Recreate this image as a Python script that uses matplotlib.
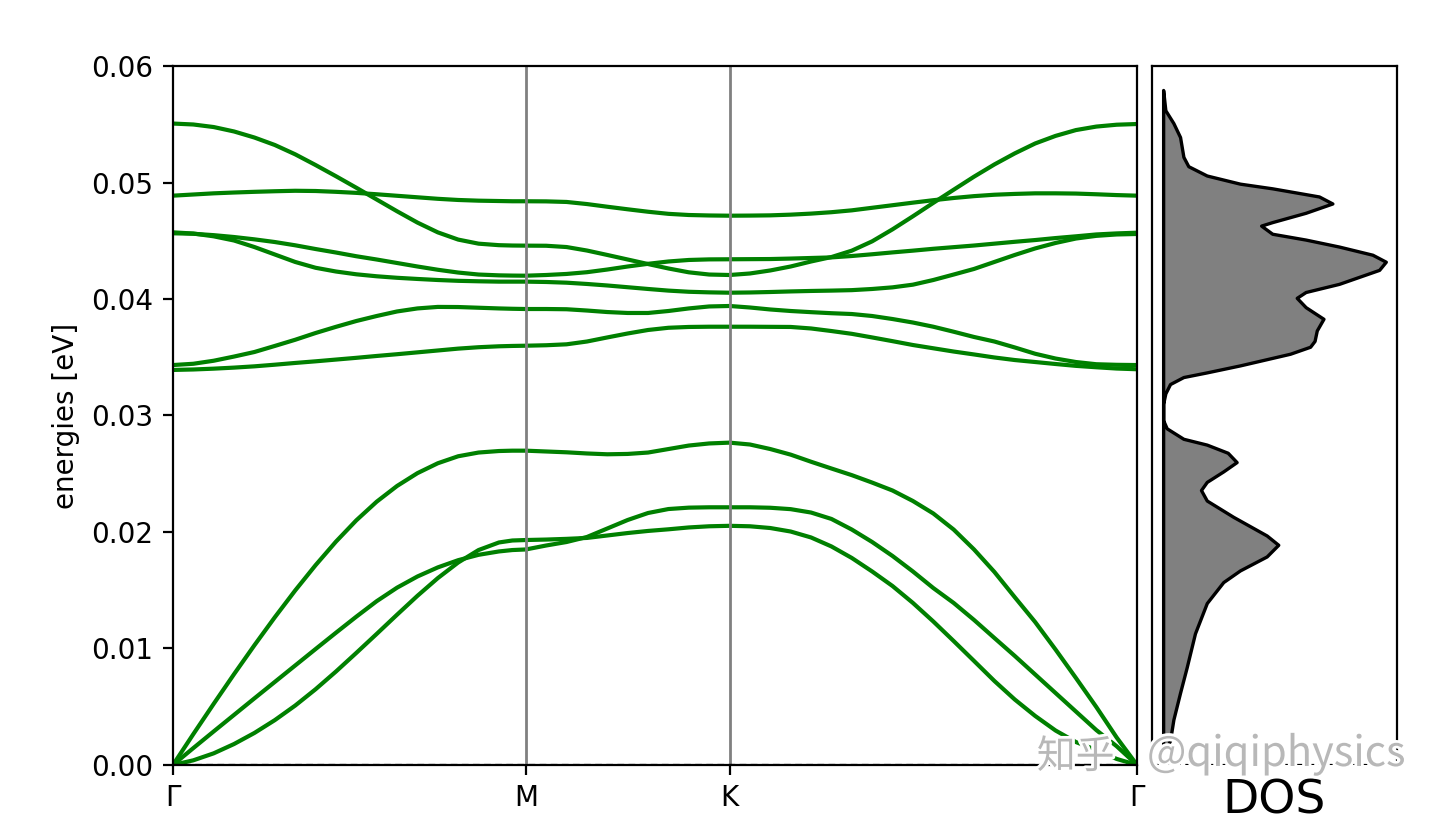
import matplotlib
matplotlib.use("Agg")
import matplotlib.pyplot as plt
import matplotlib.patheffects as pe
import numpy as np

"""
Donnees lues sur la figure (energies en meV)
"""

labels = ["Γ", "M", "K", "Γ"]
special_k = [0, 0.866, 1.366, 2.366]

kpath = [0, 0.05, 0.1, 0.15, 0.2, 0.25, 0.3, 0.35, 0.4, 0.45, 0.5, 0.55, 0.6,
         0.65, 0.7, 0.75, 0.8, 0.833, 0.866,
         0.916, 0.966, 1.016, 1.066, 1.116, 1.166, 1.216, 1.266, 1.316, 1.366,
         1.416, 1.466, 1.516, 1.566, 1.616, 1.666, 1.716, 1.766, 1.816, 1.866,
         1.916, 1.966, 2.016, 2.066, 2.116, 2.166, 2.216, 2.266, 2.316, 2.366]

band1 = [55.06, 54.98, 54.76, 54.38, 53.86, 53.22, 52.42, 51.50, 50.54, 49.55,
         48.54, 47.53, 46.56, 45.72, 45.10, 44.75, 44.62, 44.59, 44.58,
         44.57, 44.46, 44.16, 43.78, 43.39, 43.00, 42.62, 42.29, 42.10, 42.06,
         42.19, 42.45, 42.79, 43.22, 43.60, 44.15, 44.95, 45.98, 47.10, 48.25,
         49.38, 50.50, 51.55, 52.50, 53.35, 54.00, 54.50, 54.80, 54.96, 55.02]
band2 = [48.87, 48.97, 49.07, 49.14, 49.20, 49.25, 49.29, 49.27, 49.20, 49.11,
         48.99, 48.86, 48.73, 48.60, 48.50, 48.44, 48.41, 48.39, 48.39,
         48.38, 48.33, 48.15, 47.92, 47.70, 47.49, 47.31, 47.21, 47.17, 47.15,
         47.16, 47.18, 47.24, 47.33, 47.45, 47.61, 47.83, 48.05, 48.27, 48.48,
         48.67, 48.83, 48.95, 49.02, 49.07, 49.07, 49.05, 48.99, 48.92, 48.87]
band3 = [45.64, 45.60, 45.48, 45.32, 45.12, 44.89, 44.61, 44.29, 43.99, 43.67,
         43.39, 43.09, 42.79, 42.51, 42.27, 42.10, 42.03, 42.01, 42.00,
         42.06, 42.15, 42.30, 42.53, 42.79, 43.02, 43.22, 43.35, 43.40, 43.41,
         43.42, 43.43, 43.47, 43.52, 43.57, 43.69, 43.84, 44.00, 44.15, 44.31,
         44.45, 44.59, 44.75, 44.91, 45.06, 45.23, 45.38, 45.54, 45.63, 45.69]
band4 = [45.72, 45.62, 45.38, 45.02, 44.46, 43.82, 43.18, 42.68, 42.36, 42.12,
         41.95, 41.82, 41.72, 41.63, 41.56, 41.52, 41.49, 41.49, 41.49,
         41.46, 41.40, 41.29, 41.16, 41.01, 40.86, 40.72, 40.62, 40.57, 40.54,
         40.56, 40.60, 40.65, 40.69, 40.72, 40.76, 40.86, 41.00, 41.23, 41.63,
         42.10, 42.58, 43.18, 43.78, 44.34, 44.81, 45.19, 45.42, 45.54, 45.58]
band5 = [34.33, 34.44, 34.70, 35.06, 35.45, 35.97, 36.50, 37.08, 37.61, 38.11,
         38.54, 38.93, 39.19, 39.32, 39.31, 39.25, 39.19, 39.16, 39.14,
         39.14, 39.12, 39.01, 38.88, 38.80, 38.80, 38.97, 39.19, 39.36, 39.40,
         39.27, 39.10, 38.97, 38.87, 38.78, 38.71, 38.54, 38.28, 37.98, 37.62,
         37.19, 36.74, 36.35, 35.84, 35.30, 34.89, 34.59, 34.40, 34.35, 34.33]
band6 = [33.91, 33.95, 34.02, 34.11, 34.22, 34.36, 34.51, 34.65, 34.80, 34.95,
         35.11, 35.26, 35.42, 35.58, 35.74, 35.86, 35.94, 35.97, 35.99,
         36.03, 36.11, 36.35, 36.70, 37.04, 37.34, 37.53, 37.60, 37.62, 37.62,
         37.62, 37.61, 37.60, 37.47, 37.25, 37.01, 36.70, 36.38, 36.05, 35.77,
         35.49, 35.24, 34.98, 34.76, 34.59, 34.42, 34.26, 34.14, 34.03, 33.97]
band7 = [0, 2.65, 5.25, 7.80, 10.28, 12.68, 14.98, 17.15, 19.17, 21.00,
         22.60, 23.95, 25.05, 25.90, 26.50, 26.82, 26.95, 26.98, 26.98,
         26.91, 26.84, 26.74, 26.67, 26.70, 26.82, 27.12, 27.42, 27.60, 27.67,
         27.51, 27.12, 26.64, 26.03, 25.45, 24.88, 24.24, 23.56, 22.66, 21.59,
         20.21, 18.50, 16.57, 14.40, 12.27, 9.91, 7.47, 4.98, 2.36, 0]
band8 = [0, 1.45, 2.88, 4.30, 5.72, 7.13, 8.54, 9.95, 11.35, 12.73,
         14.06, 15.22, 16.18, 16.96, 17.58, 18.04, 18.33, 18.45, 18.50,
         18.84, 19.14, 19.57, 20.30, 21.03, 21.63, 21.97, 22.09, 22.12, 22.12,
         22.12, 22.08, 21.96, 21.67, 21.12, 20.21, 19.14, 17.94, 16.61, 15.19,
         13.91, 12.45, 10.90, 9.36, 7.77, 6.18, 4.59, 3.00, 1.61, 0]
band9 = [0, 0.40, 1.00, 1.80, 2.75, 3.85, 5.10, 6.50, 8.02, 9.62,
         11.25, 12.90, 14.52, 16.04, 17.38, 18.45, 19.10, 19.27, 19.31,
         19.35, 19.41, 19.49, 19.70, 19.91, 20.09, 20.23, 20.39, 20.49, 20.53,
         20.49, 20.34, 20.04, 19.53, 18.76, 17.77, 16.61, 15.36, 13.91, 12.32,
         10.64, 8.93, 7.21, 5.62, 4.21, 2.96, 1.97, 1.29, 0.52, 0]

bands = [band1, band2, band3, band4, band5, band6, band7, band8, band9]

# DOS (normalise au pic)
dos_E = [57.94, 56.2, 55.1, 53.9, 52.2, 51.4, 50.6, 49.9, 49.5, 48.8, 48.2,
         47.4, 46.6, 46.3, 45.6, 45.1, 44.5, 43.8, 43.2, 42.5, 41.3, 40.6,
         40.1, 39.3, 38.3, 37.3, 36.4, 35.9, 35.3, 34.3, 33.7, 33.3, 32.7,
         31.9, 31.0, 29.6, 28.9, 28.0, 27.5, 26.8, 26.0, 25.2, 24.3, 23.6,
         22.7, 21.3, 19.7, 18.9, 17.9, 16.7, 15.7, 13.9, 11.3, 8.4, 6.2,
         3.9, 2.1, 1.5]
dos_val = [0, 0.01, 0.046, 0.076, 0.091, 0.113, 0.196, 0.345, 0.49, 0.70, 0.76,
           0.64, 0.49, 0.44, 0.49, 0.64, 0.79, 0.94, 1.0, 0.97, 0.79, 0.64,
           0.60, 0.64, 0.72, 0.69, 0.68, 0.66, 0.57, 0.345, 0.196, 0.091, 0.031,
           0.01, 0, 0, 0.016, 0.091, 0.196, 0.29, 0.33, 0.27, 0.196, 0.17,
           0.196, 0.315, 0.465, 0.517, 0.465, 0.345, 0.27, 0.196, 0.143, 0.106, 0.076,
           0.046, 0.031, 0.016]

emin = 0.0
emax = 0.06

fig = plt.figure(figsize=(7.2, 4.115), dpi=200)
ax = fig.add_axes([0.1201, 0.0705, 0.6695, 0.8493])
ax2 = fig.add_axes([0.8, 0.0705, 0.1701, 0.8493])

k = np.array(kpath)
for b in bands:
    ax.plot(k, np.array(b) / 1000.0, color="green", lw=1.5)

for x in special_k[1:-1]:
    ax.axvline(x, color="0.5", lw=1.0)
ax.axhline(0, color="k", ls="--", lw=0.8, dashes=(3, 2))

ax.set_xticks(special_k)
ax.set_xticklabels(labels)
ax.set_xlim(special_k[0], special_k[-1])
ax.set_ylim(emin, emax)
yt = np.arange(0, 0.061, 0.01)
ax.set_yticks(yt)
ax.set_yticklabels(["%.2f" % v for v in yt])
ax.set_ylabel("energies [eV]")

E = np.array(dos_E) / 1000.0
d = np.array(dos_val)
ax2.fill_betweenx(E, 0, d, facecolor="0.5", edgecolor="k", lw=1.2)
ax2.axhline(0, color="k", ls="--", lw=0.8, dashes=(3, 2))
ax2.set_ylim(emin, emax)
ax2.set_xlim(-0.05, 1.05)
ax2.set_xticks([])
ax2.set_yticks([])
ax2.spines["bottom"].set_visible(False)
ax2.set_xlabel("DOS", fontsize=17, labelpad=5)

# filigrane
wm = [pe.withStroke(linewidth=2, foreground="white")]
fig.text(0.720, 1 - 768 / 823.0, "知乎", fontsize=14, color="0.72",
         family=["Noto Sans CJK SC", "DejaVu Sans"], va="baseline", ha="left",
         path_effects=wm)
fig.text(0.7965, 1 - 766 / 823.0, "@qiqiphysics", fontsize=15, color="0.72",
         family=["Noto Sans CJK SC", "DejaVu Sans"], va="baseline", ha="left",
         path_effects=wm)

plt.savefig("out.png", dpi=200)
